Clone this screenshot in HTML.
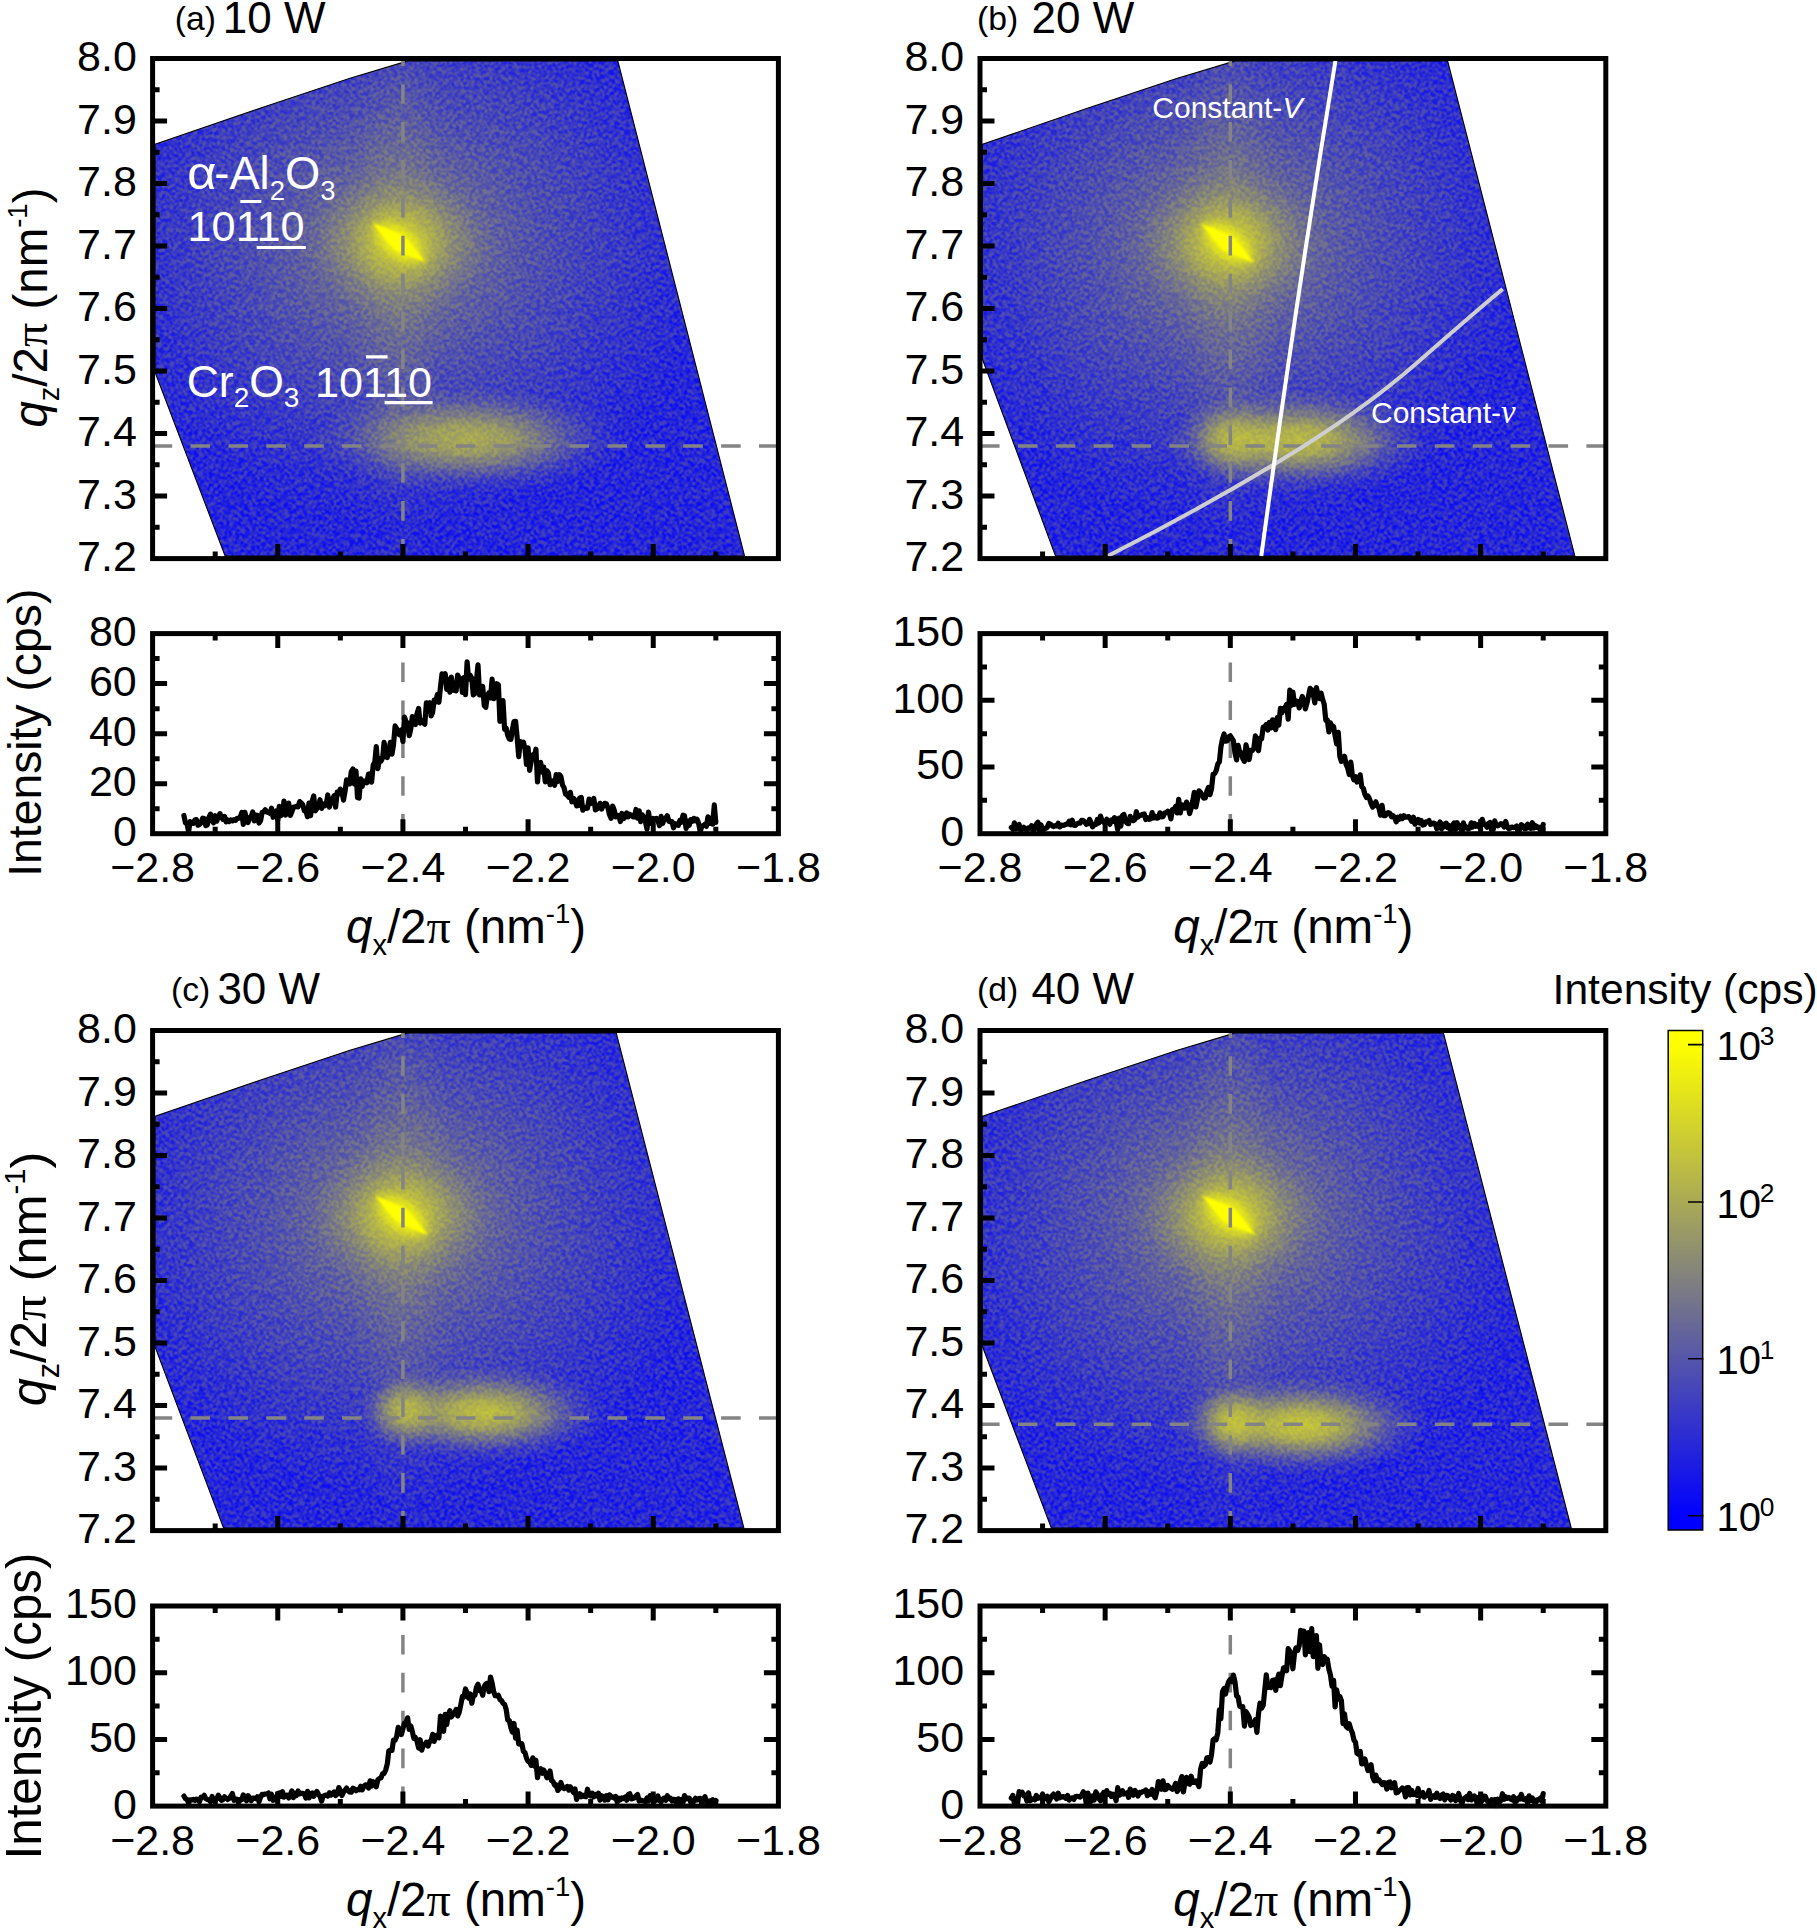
<!DOCTYPE html>
<html lang="en"><head><meta charset="utf-8"><title>Reciprocal space maps of Cr2O3 films on sapphire</title>
<style>html,body{margin:0;padding:0;background:#fff}svg{display:block}text{font-family:"Liberation Sans", sans-serif;fill:#000}</style>
</head><body>
<svg width="1817" height="1929" viewBox="0 0 1817 1929">
<rect width="1817" height="1929" fill="#fff"/>
<defs>
<filter id="heat" x="0" y="0" width="1" height="1" color-interpolation-filters="sRGB">
<feTurbulence type="fractalNoise" baseFrequency="0.6" numOctaves="1" seed="7" result="n0"/>
<feGaussianBlur in="n0" stdDeviation="0.85" result="n"/>
<feColorMatrix in="n" type="matrix" values="13 0 0 0 -6  13 0 0 0 -6  13 0 0 0 -6  0 0 0 0 1" result="n2"/>
<feComposite in="SourceGraphic" in2="n2" operator="arithmetic" k1="-0.230" k2="1.115" k3="0.230" k4="-0.115" result="t"/>
<feColorMatrix in="t" type="matrix" values="1 0 0 0 0  1 0 0 0 0  -1 0 0 0 1  0 0 0 0 1"/>
</filter>
<filter id="blur1"><feGaussianBlur stdDeviation="0.9"/></filter>
<filter id="blur4"><feGaussianBlur stdDeviation="5"/></filter>
<linearGradient id="cbar" x1="0" y1="0" x2="0" y2="1"><stop offset="0" stop-color="#ffff00"/><stop offset=".025" stop-color="#ffff00"/><stop offset=".5" stop-color="#808080"/><stop offset=".975" stop-color="#0000ff"/><stop offset="1" stop-color="#0000ff"/></linearGradient>
</defs>
<!-- panel (a) -->
<defs><radialGradient id="ga1"><stop offset="0" stop-color="#fff" stop-opacity="0.78"/><stop offset="0.04" stop-color="#fff" stop-opacity="0.69"/><stop offset="0.09" stop-color="#fff" stop-opacity="0.55"/><stop offset="0.17" stop-color="#fff" stop-opacity="0.4"/><stop offset="0.28" stop-color="#fff" stop-opacity="0.28"/><stop offset="0.43" stop-color="#fff" stop-opacity="0.2"/><stop offset="0.61" stop-color="#fff" stop-opacity="0.13"/><stop offset="0.8" stop-color="#fff" stop-opacity="0.06"/><stop offset="1" stop-color="#fff" stop-opacity="0"/></radialGradient><radialGradient id="ga2"><stop offset="0" stop-color="#fff" stop-opacity="0.11"/><stop offset="0.25" stop-color="#fff" stop-opacity="0.09"/><stop offset="0.5" stop-color="#fff" stop-opacity="0.06"/><stop offset="0.75" stop-color="#fff" stop-opacity="0.02"/><stop offset="1" stop-color="#fff" stop-opacity="0"/></radialGradient><radialGradient id="ga3"><stop offset="0" stop-color="#fff" stop-opacity="0.24"/><stop offset="0.25" stop-color="#fff" stop-opacity="0.21"/><stop offset="0.5" stop-color="#fff" stop-opacity="0.12"/><stop offset="0.75" stop-color="#fff" stop-opacity="0.04"/><stop offset="1" stop-color="#fff" stop-opacity="0"/></radialGradient><radialGradient id="ga4"><stop offset="0" stop-color="#fff" stop-opacity="0.58"/><stop offset="0.25" stop-color="#fff" stop-opacity="0.5"/><stop offset="0.5" stop-color="#fff" stop-opacity="0.29"/><stop offset="0.75" stop-color="#fff" stop-opacity="0.09"/><stop offset="1" stop-color="#fff" stop-opacity="0"/></radialGradient><clipPath id="clipa"><path d="M155,144.25 L260,108.3 L350,78.3 L408,60.9 L617.8,60.9 L744.6,556.1 L225.2,556.1 L155,372.2 Z"/></clipPath></defs>
<g clip-path="url(#clipa)"><g filter="url(#heat)">
<rect x="148.6" y="54.5" width="633.8" height="508.1" fill="#262626"/>
<ellipse cx="399.17" cy="242.6" rx="310" ry="280" fill="url(#ga1)"/>
<ellipse cx="399.17" cy="262.6" rx="55" ry="360" fill="url(#ga2)"/>
<ellipse cx="399.17" cy="242.6" rx="104" ry="62" fill="url(#ga3)"/>
<ellipse cx="468.63" cy="439.83" rx="160" ry="54" fill="url(#ga4)"/>
<g transform="translate(399.17,242.6) rotate(36.5)"><ellipse rx="30" ry="13" fill="#fff" fill-opacity=".55" filter="url(#blur4)"/><path d="M-33,0 Q-6,-8 0,-8 Q6,-8 33,0 Q6,8 0,8 Q-6,8 -33,0Z" fill="#fff" filter="url(#blur1)"/></g>
</g></g>
<path d="M155,144.25 L260,108.3 L350,78.3 L408,60.9 L617.8,60.9 L744.6,556.1 L225.2,556.1 L155,372.2 Z" fill="none" stroke="#000" stroke-width="1.1"/>
<line x1="402.92" y1="558.6" x2="402.92" y2="58.5" stroke="#848484" stroke-width="3.5" stroke-dasharray="19.6 18.3"/>
<line x1="152.6" y1="446.08" x2="778.4" y2="446.08" stroke="#848484" stroke-width="3.5" stroke-dasharray="19.6 18.3"/>
<line x1="402.92" y1="833.7" x2="402.92" y2="660.7" stroke="#848484" stroke-width="3.5" stroke-dasharray="19.6 18.3"/>
<text transform="translate(187.2,189.3) scale(1.1,1)" font-family='"Liberation Serif", serif' font-size="46" style="fill:#fff">α</text>
<text x="214.3" y="189.3" font-size="45.3" text-anchor="start" style="fill:#fff">-Al<tspan font-size="27.5" dy="10.3">2</tspan><tspan dy="-10.3">O</tspan><tspan font-size="27.5" dy="10.3">3</tspan></text>
<text x="187.6" y="241.2" font-size="43.2" text-anchor="start" style="fill:#fff">10110</text>
<path d="M240.3,201.5 H261.4 M256.7,247.4 H305.8" stroke="#fff" stroke-width="3" fill="none"/>
<text x="186.7" y="397.2" font-size="44.5" text-anchor="start" style="fill:#fff">Cr<tspan font-size="28" dy="10">2</tspan><tspan dy="-10">O</tspan><tspan font-size="28" dy="10">3</tspan><tspan dy="-10" dx="3.6" font-size="43.2"> 10110</tspan></text>
<path d="M366,356.8 H387.5 M384.6,402.6 H432.6" stroke="#fff" stroke-width="3.2" fill="none"/>
<path d="M215.18,558.6 v-7 M277.76,558.6 v-14.5 M340.34,558.6 v-7 M402.92,558.6 v-14.5 M465.5,558.6 v-7 M528.08,558.6 v-14.5 M590.66,558.6 v-7 M653.24,558.6 v-14.5 M715.82,558.6 v-7" stroke="#000" stroke-width="5.0" fill="none"/>
<path d="M152.6,89.76 h7 M152.6,121.01 h14.5 M152.6,152.27 h7 M152.6,183.53 h14.5 M152.6,214.78 h7 M152.6,246.04 h14.5 M152.6,277.29 h7 M152.6,308.55 h14.5 M152.6,339.81 h7 M152.6,371.06 h14.5 M152.6,402.32 h7 M152.6,433.58 h14.5 M152.6,464.83 h7 M152.6,496.09 h14.5 M152.6,527.34 h7" stroke="#000" stroke-width="5.0" fill="none"/>
<rect x="152.6" y="58.5" width="625.8" height="500.1" fill="none" stroke="#000" stroke-width="5.0"/>
<text x="136.8" y="71.1" font-size="43" text-anchor="end">8.0</text>
<text x="136.8" y="133.61" font-size="43" text-anchor="end">7.9</text>
<text x="136.8" y="196.12" font-size="43" text-anchor="end">7.8</text>
<text x="136.8" y="258.64" font-size="43" text-anchor="end">7.7</text>
<text x="136.8" y="321.15" font-size="43" text-anchor="end">7.6</text>
<text x="136.8" y="383.66" font-size="43" text-anchor="end">7.5</text>
<text x="136.8" y="446.18" font-size="43" text-anchor="end">7.4</text>
<text x="136.8" y="508.69" font-size="43" text-anchor="end">7.3</text>
<text x="136.8" y="571.2" font-size="43" text-anchor="end">7.2</text>
<text transform="translate(47.3,307.55) rotate(-90)" font-size="47.5" text-anchor="middle"><tspan font-style="italic">q</tspan><tspan font-size="29" dy="12">z</tspan><tspan dy="-12">/2</tspan><tspan font-family='"Liberation Serif", serif' font-size="48">π</tspan><tspan> (nm</tspan><tspan font-size="27.5" dy="-20">-1</tspan><tspan dy="20">)</tspan></text>
<text x="174.8" y="29.9" font-size="33.7" text-anchor="start">(a)</text>
<text x="222.8" y="32.7" font-size="44" text-anchor="start">10 W</text>
<path d="M183.9,815.5 185.5,822.9 187.0,823.6 188.6,831.6 190.1,821.6 191.7,822.7 193.3,823.4 194.8,820.1 196.4,819.6 198.0,825.2 199.5,824.4 201.1,822.7 202.7,818.2 204.2,818.6 205.8,825.6 207.4,824.8 208.9,817.6 210.5,814.2 212.1,820.4 213.6,822.8 215.2,815.7 216.7,821.2 218.3,817.0 219.9,813.6 221.4,817.2 223.0,819.3 224.6,816.5 226.1,821.9 227.7,820.0 229.3,821.5 230.8,819.9 232.4,820.9 234.0,819.6 235.5,820.3 237.1,818.3 238.6,818.3 240.2,817.2 241.8,812.5 243.3,824.4 244.9,812.4 246.5,818.6 248.0,822.5 249.6,817.8 251.2,816.4 252.7,812.0 254.3,820.9 255.9,815.2 257.4,815.3 259.0,823.0 260.6,820.6 262.1,812.5 263.7,811.8 265.2,809.8 266.8,812.0 268.4,812.4 269.9,813.4 271.5,808.2 273.1,817.3 274.6,813.8 276.2,811.1 277.8,820.0 279.3,806.3 280.9,815.8 282.5,812.1 284.0,801.2 285.6,815.1 287.1,813.4 288.7,803.0 290.3,815.5 291.8,812.0 293.4,807.1 295.0,807.1 296.5,806.1 298.1,806.8 299.7,801.6 301.2,803.0 302.8,804.8 304.4,810.9 305.9,810.8 307.5,816.7 309.0,803.0 310.6,815.7 312.2,801.3 313.7,795.9 315.3,810.8 316.9,808.5 318.4,807.0 320.0,799.7 321.6,808.4 323.1,804.0 324.7,805.8 326.3,803.9 327.8,795.0 329.4,807.1 331.0,800.9 332.5,799.4 334.1,795.7 335.6,807.1 337.2,792.2 338.8,794.1 340.3,789.1 341.9,791.6 343.5,800.1 345.0,791.6 346.6,779.8 348.2,783.6 349.7,783.8 351.3,771.6 352.9,769.0 354.4,784.1 356.0,771.2 357.5,797.5 359.1,798.0 360.7,778.8 362.2,786.5 363.8,781.0 365.4,780.9 366.9,782.8 368.5,774.0 370.1,773.7 371.6,782.1 373.2,765.1 374.8,761.9 376.3,746.6 377.9,768.7 379.5,758.6 381.0,761.2 382.6,757.9 384.1,742.4 385.7,751.8 387.3,757.5 388.8,750.3 390.4,742.3 392.0,754.2 393.5,744.9 395.1,725.9 396.7,728.8 398.2,733.8 399.8,734.9 401.4,729.8 402.9,741.5 404.5,717.1 406.0,721.9 407.6,723.0 409.2,735.7 410.7,729.4 412.3,716.7 413.9,718.3 415.4,724.5 417.0,713.8 418.6,708.4 420.1,723.1 421.7,720.6 423.3,722.8 424.8,724.2 426.4,702.8 428.0,703.4 429.5,702.8 431.1,716.0 432.6,712.5 434.2,700.1 435.8,701.8 437.3,694.7 438.9,702.3 440.5,687.0 442.0,673.8 443.6,675.5 445.2,673.8 446.7,689.3 448.3,679.2 449.9,692.2 451.4,677.2 453.0,690.2 454.5,690.3 456.1,690.9 457.7,675.1 459.2,678.6 460.8,678.6 462.4,692.4 463.9,677.6 465.5,694.7 467.1,661.8 468.6,679.2 470.2,675.1 471.8,678.1 473.3,694.9 474.9,693.5 476.5,680.0 478.0,664.8 479.6,695.0 481.1,692.0 482.7,686.4 484.3,705.7 485.8,707.3 487.4,695.0 489.0,692.7 490.5,697.9 492.1,679.2 493.7,698.7 495.2,694.8 496.8,683.7 498.4,684.8 499.9,721.4 501.5,712.4 503.0,700.6 504.6,729.3 506.2,728.2 507.7,735.2 509.3,739.0 510.9,739.4 512.4,729.5 514.0,721.6 515.6,721.3 517.1,737.0 518.7,756.6 520.3,741.7 521.8,746.1 523.4,742.2 525.0,748.3 526.5,764.4 528.1,747.9 529.6,770.4 531.2,761.1 532.8,755.0 534.3,756.7 535.9,749.2 537.5,782.0 539.0,763.1 540.6,762.5 542.2,772.2 543.7,767.1 545.3,781.8 546.9,770.8 548.4,773.0 550.0,784.7 551.5,783.4 553.1,781.0 554.7,785.2 556.2,774.5 557.8,781.4 559.4,774.7 560.9,776.6 562.5,785.0 564.1,787.8 565.6,794.1 567.2,795.1 568.8,797.2 570.3,792.3 571.9,801.8 573.5,798.4 575.0,800.0 576.6,805.8 578.1,805.7 579.7,798.0 581.3,797.5 582.8,810.1 584.4,807.3 586.0,808.4 587.5,808.1 589.1,799.1 590.7,803.6 592.2,800.9 593.8,798.5 595.4,810.0 596.9,808.9 598.5,808.0 600.0,803.3 601.6,809.1 603.2,805.6 604.7,803.3 606.3,803.7 607.9,807.7 609.4,814.3 611.0,818.4 612.6,806.1 614.1,809.8 615.7,816.9 617.3,815.4 618.8,815.6 620.4,821.6 621.9,813.5 623.5,818.6 625.1,816.9 626.6,812.9 628.2,816.8 629.8,814.3 631.3,815.0 632.9,816.8 634.5,816.9 636.0,809.5 637.6,818.2 639.2,810.8 640.7,821.6 642.3,814.9 643.9,817.4 645.4,821.2 647.0,829.2 648.5,812.1 650.1,823.4 651.7,822.8 653.2,818.5 654.8,819.0 656.4,818.3 657.9,820.5 659.5,825.6 661.1,816.4 662.6,823.5 664.2,819.3 665.8,818.0 667.3,815.8 668.9,821.3 670.4,821.7 672.0,821.5 673.6,827.8 675.1,823.7 676.7,824.7 678.3,825.4 679.8,820.4 681.4,822.3 683.0,815.2 684.5,815.7 686.1,828.5 687.7,821.1 689.2,825.4 690.8,819.6 692.4,821.2 693.9,818.4 695.5,820.8 697.0,819.3 698.6,823.3 700.2,831.4 701.7,826.7 703.3,825.5 704.9,824.3 706.4,826.3 708.0,816.8 709.6,823.4 711.1,818.2 712.7,824.2 714.3,804.9 715.8,822.4" fill="none" stroke="#000" stroke-width="5.2" stroke-linejoin="round" stroke-linecap="round"/>
<path d="M215.18,833.7 v-7 M277.76,833.7 v-14.5 M340.34,833.7 v-7 M402.92,833.7 v-14.5 M465.5,833.7 v-7 M528.08,833.7 v-14.5 M590.66,833.7 v-7 M653.24,833.7 v-14.5 M715.82,833.7 v-7" stroke="#000" stroke-width="5.0" fill="none"/>
<path d="M215.18,633.6 v7 M277.76,633.6 v14.5 M340.34,633.6 v7 M402.92,633.6 v14.5 M465.5,633.6 v7 M528.08,633.6 v14.5 M590.66,633.6 v7 M653.24,633.6 v14.5 M715.82,633.6 v7" stroke="#000" stroke-width="5.0" fill="none"/>
<path d="M152.6,658.61 h7 M152.6,683.62 h14.5 M152.6,708.64 h7 M152.6,733.65 h14.5 M152.6,758.66 h7 M152.6,783.67 h14.5 M152.6,808.69 h7" stroke="#000" stroke-width="5.0" fill="none"/>
<path d="M778.4,658.61 h-7 M778.4,683.62 h-14.5 M778.4,708.64 h-7 M778.4,733.65 h-14.5 M778.4,758.66 h-7 M778.4,783.67 h-14.5 M778.4,808.69 h-7" stroke="#000" stroke-width="5.0" fill="none"/>
<rect x="152.6" y="633.6" width="625.8" height="200.1" fill="none" stroke="#000" stroke-width="5.0"/>
<text x="136.8" y="846.1" font-size="43" text-anchor="end">0</text>
<text x="136.8" y="796.08" font-size="43" text-anchor="end">20</text>
<text x="136.8" y="746.05" font-size="43" text-anchor="end">40</text>
<text x="136.8" y="696.02" font-size="43" text-anchor="end">60</text>
<text x="136.8" y="646" font-size="43" text-anchor="end">80</text>
<text x="152.6" y="882.3" font-size="43" text-anchor="middle">−2.8</text>
<text x="277.76" y="882.3" font-size="43" text-anchor="middle">−2.6</text>
<text x="402.92" y="882.3" font-size="43" text-anchor="middle">−2.4</text>
<text x="528.08" y="882.3" font-size="43" text-anchor="middle">−2.2</text>
<text x="653.24" y="882.3" font-size="43" text-anchor="middle">−2.0</text>
<text x="778.4" y="882.3" font-size="43" text-anchor="middle">−1.8</text>
<text transform="translate(41,732.75) rotate(-90)" font-size="46.3" text-anchor="middle">Intensity (cps)</text>
<text x="466" y="943.1" font-size="47.5" text-anchor="middle"><tspan font-style="italic">q</tspan><tspan font-size="29" dy="12">x</tspan><tspan dy="-12">/2</tspan><tspan font-family='"Liberation Serif", serif' font-size="48">π</tspan><tspan> (nm</tspan><tspan font-size="27.5" dy="-20">-1</tspan><tspan dy="20">)</tspan></text>
<!-- panel (b) -->
<defs><radialGradient id="gb1"><stop offset="0" stop-color="#fff" stop-opacity="0.78"/><stop offset="0.04" stop-color="#fff" stop-opacity="0.69"/><stop offset="0.09" stop-color="#fff" stop-opacity="0.55"/><stop offset="0.17" stop-color="#fff" stop-opacity="0.4"/><stop offset="0.28" stop-color="#fff" stop-opacity="0.28"/><stop offset="0.43" stop-color="#fff" stop-opacity="0.2"/><stop offset="0.61" stop-color="#fff" stop-opacity="0.13"/><stop offset="0.8" stop-color="#fff" stop-opacity="0.06"/><stop offset="1" stop-color="#fff" stop-opacity="0"/></radialGradient><radialGradient id="gb2"><stop offset="0" stop-color="#fff" stop-opacity="0.11"/><stop offset="0.25" stop-color="#fff" stop-opacity="0.09"/><stop offset="0.5" stop-color="#fff" stop-opacity="0.06"/><stop offset="0.75" stop-color="#fff" stop-opacity="0.02"/><stop offset="1" stop-color="#fff" stop-opacity="0"/></radialGradient><radialGradient id="gb3"><stop offset="0" stop-color="#fff" stop-opacity="0.24"/><stop offset="0.25" stop-color="#fff" stop-opacity="0.21"/><stop offset="0.5" stop-color="#fff" stop-opacity="0.12"/><stop offset="0.75" stop-color="#fff" stop-opacity="0.04"/><stop offset="1" stop-color="#fff" stop-opacity="0"/></radialGradient><radialGradient id="gb4"><stop offset="0" stop-color="#fff" stop-opacity="0.66"/><stop offset="0.25" stop-color="#fff" stop-opacity="0.57"/><stop offset="0.5" stop-color="#fff" stop-opacity="0.33"/><stop offset="0.75" stop-color="#fff" stop-opacity="0.11"/><stop offset="1" stop-color="#fff" stop-opacity="0"/></radialGradient><radialGradient id="gb5"><stop offset="0" stop-color="#fff" stop-opacity="0.42"/><stop offset="0.25" stop-color="#fff" stop-opacity="0.36"/><stop offset="0.5" stop-color="#fff" stop-opacity="0.21"/><stop offset="0.75" stop-color="#fff" stop-opacity="0.07"/><stop offset="1" stop-color="#fff" stop-opacity="0"/></radialGradient><clipPath id="clipb"><path d="M982.4,144.25 L1087.4,108.3 L1177.4,78.3 L1235.4,60.9 L1447.6,60.9 L1574.9,556.1 L1055.6,556.1 L982.4,359.2 Z"/></clipPath></defs>
<g clip-path="url(#clipb)"><g filter="url(#heat)">
<rect x="976" y="54.5" width="633.8" height="508.1" fill="#262626"/>
<ellipse cx="1227.82" cy="243.22" rx="310" ry="280" fill="url(#gb1)"/>
<ellipse cx="1227.82" cy="263.22" rx="55" ry="360" fill="url(#gb2)"/>
<ellipse cx="1227.82" cy="243.22" rx="104" ry="62" fill="url(#gb3)"/>
<ellipse cx="1297.91" cy="441.08" rx="136" ry="52" fill="url(#gb4)"/>
<ellipse cx="1230.32" cy="439.83" rx="50" ry="42" fill="url(#gb5)"/>
<g transform="translate(1227.82,243.22) rotate(36.5)"><ellipse rx="30" ry="13" fill="#fff" fill-opacity=".55" filter="url(#blur4)"/><path d="M-33,0 Q-6,-8 0,-8 Q6,-8 33,0 Q6,8 0,8 Q-6,8 -33,0Z" fill="#fff" filter="url(#blur1)"/></g>
</g></g>
<path d="M982.4,144.25 L1087.4,108.3 L1177.4,78.3 L1235.4,60.9 L1447.6,60.9 L1574.9,556.1 L1055.6,556.1 L982.4,359.2 Z" fill="none" stroke="#000" stroke-width="1.1"/>
<line x1="1230.32" y1="558.6" x2="1230.32" y2="58.5" stroke="#848484" stroke-width="3.5" stroke-dasharray="19.6 18.3"/>
<line x1="980" y1="446.08" x2="1605.8" y2="446.08" stroke="#848484" stroke-width="3.5" stroke-dasharray="19.6 18.3"/>
<line x1="1230.32" y1="833.7" x2="1230.32" y2="660.7" stroke="#848484" stroke-width="3.5" stroke-dasharray="19.6 18.3"/>
<path d="M1107.8,556 Q1195,512 1278,462 T1418,362 T1502.7,289" fill="none" stroke="#cfcfcf" stroke-width="4"/>
<path d="M1335.4,61 Q1296,300 1261.3,556" fill="none" stroke="#fff" stroke-width="4"/>
<text x="1152.3" y="118.2" font-size="30" text-anchor="start" style="fill:#fff">Constant-<tspan font-style="italic">V</tspan></text>
<text x="1371" y="422.5" font-size="30" text-anchor="start" style="fill:#fff">Constant-<tspan font-style="italic" font-family='"Liberation Serif", serif' font-size="33">ν</tspan></text>
<path d="M1042.58,558.6 v-7 M1105.16,558.6 v-14.5 M1167.74,558.6 v-7 M1230.32,558.6 v-14.5 M1292.9,558.6 v-7 M1355.48,558.6 v-14.5 M1418.06,558.6 v-7 M1480.64,558.6 v-14.5 M1543.22,558.6 v-7" stroke="#000" stroke-width="5.0" fill="none"/>
<path d="M980,89.76 h7 M980,121.01 h14.5 M980,152.27 h7 M980,183.53 h14.5 M980,214.78 h7 M980,246.04 h14.5 M980,277.29 h7 M980,308.55 h14.5 M980,339.81 h7 M980,371.06 h14.5 M980,402.32 h7 M980,433.58 h14.5 M980,464.83 h7 M980,496.09 h14.5 M980,527.34 h7" stroke="#000" stroke-width="5.0" fill="none"/>
<rect x="980" y="58.5" width="625.8" height="500.1" fill="none" stroke="#000" stroke-width="5.0"/>
<text x="964.2" y="71.1" font-size="43" text-anchor="end">8.0</text>
<text x="964.2" y="133.61" font-size="43" text-anchor="end">7.9</text>
<text x="964.2" y="196.12" font-size="43" text-anchor="end">7.8</text>
<text x="964.2" y="258.64" font-size="43" text-anchor="end">7.7</text>
<text x="964.2" y="321.15" font-size="43" text-anchor="end">7.6</text>
<text x="964.2" y="383.66" font-size="43" text-anchor="end">7.5</text>
<text x="964.2" y="446.18" font-size="43" text-anchor="end">7.4</text>
<text x="964.2" y="508.69" font-size="43" text-anchor="end">7.3</text>
<text x="964.2" y="571.2" font-size="43" text-anchor="end">7.2</text>
<text x="977" y="29.9" font-size="33.7" text-anchor="start">(b)</text>
<text x="1031.5" y="32.7" font-size="44" text-anchor="start">20 W</text>
<path d="M1011.3,827.4 1012.9,829.1 1014.4,822.8 1016.0,828.8 1017.5,827.9 1019.1,824.4 1020.7,830.0 1022.2,829.2 1023.8,827.3 1025.4,828.4 1026.9,830.3 1028.5,827.9 1030.1,828.2 1031.6,825.7 1033.2,831.1 1034.8,828.7 1036.3,824.1 1037.9,822.2 1039.5,830.4 1041.0,825.0 1042.6,828.9 1044.1,828.5 1045.7,828.4 1047.3,827.2 1048.8,823.5 1050.4,824.1 1052.0,825.7 1053.5,826.6 1055.1,825.6 1056.7,825.8 1058.2,823.3 1059.8,826.9 1061.4,825.2 1062.9,825.3 1064.5,825.1 1066.0,824.2 1067.6,824.2 1069.2,821.1 1070.7,824.8 1072.3,820.2 1073.9,825.2 1075.4,825.5 1077.0,823.9 1078.6,823.1 1080.1,823.2 1081.7,820.3 1083.3,820.6 1084.8,822.2 1086.4,824.4 1088.0,823.7 1089.5,819.3 1091.1,822.6 1092.6,826.8 1094.2,824.9 1095.8,824.5 1097.3,819.5 1098.9,823.0 1100.5,816.1 1102.0,820.5 1103.6,822.0 1105.2,823.5 1106.7,819.3 1108.3,822.6 1109.9,824.2 1111.4,819.9 1113.0,821.3 1114.5,817.6 1116.1,821.2 1117.7,829.4 1119.2,818.2 1120.8,826.1 1122.4,815.5 1123.9,814.4 1125.5,821.1 1127.1,823.2 1128.6,823.7 1130.2,816.4 1131.8,819.6 1133.3,820.7 1134.9,819.4 1136.4,811.7 1138.0,817.1 1139.6,815.6 1141.1,815.3 1142.7,814.3 1144.3,814.0 1145.8,819.5 1147.4,817.7 1149.0,819.3 1150.5,819.0 1152.1,812.6 1153.7,817.9 1155.2,816.3 1156.8,818.2 1158.4,817.7 1159.9,812.8 1161.5,816.8 1163.0,816.7 1164.6,813.1 1166.2,812.8 1167.7,811.2 1169.3,812.7 1170.9,818.9 1172.4,809.6 1174.0,809.3 1175.6,806.6 1177.1,812.9 1178.7,799.4 1180.3,813.0 1181.8,804.7 1183.4,806.6 1184.9,808.0 1186.5,802.1 1188.1,805.8 1189.6,813.5 1191.2,808.0 1192.8,800.6 1194.3,792.3 1195.9,806.9 1197.5,799.1 1199.0,790.8 1200.6,792.5 1202.2,795.1 1203.7,798.1 1205.3,798.0 1206.9,791.2 1208.4,787.5 1210.0,794.7 1211.5,788.9 1213.1,774.3 1214.7,773.4 1216.2,770.7 1217.8,764.0 1219.4,761.8 1220.9,746.9 1222.5,739.1 1224.1,734.0 1225.6,741.2 1227.2,740.7 1228.8,736.7 1230.3,735.8 1231.9,738.4 1233.4,740.8 1235.0,753.2 1236.6,759.9 1238.1,745.3 1239.7,752.2 1241.3,752.7 1242.8,758.5 1244.4,761.4 1246.0,744.9 1247.5,750.4 1249.1,759.5 1250.7,750.3 1252.2,750.6 1253.8,748.5 1255.4,735.9 1256.9,746.6 1258.5,750.7 1260.0,738.2 1261.6,738.8 1263.2,727.1 1264.7,726.8 1266.3,724.5 1267.9,730.0 1269.4,722.3 1271.0,727.9 1272.6,719.9 1274.1,724.8 1275.7,729.7 1277.3,717.5 1278.8,725.1 1280.4,708.4 1281.9,712.8 1283.5,708.9 1285.1,707.4 1286.6,704.5 1288.2,719.1 1289.8,690.1 1291.3,705.4 1292.9,692.1 1294.5,704.4 1296.0,700.8 1297.6,701.5 1299.2,707.9 1300.7,701.4 1302.3,696.5 1303.9,702.9 1305.4,708.9 1307.0,702.9 1308.5,696.0 1310.1,688.4 1311.7,690.1 1313.2,693.7 1314.8,702.9 1316.4,687.6 1317.9,694.6 1319.5,698.5 1321.1,693.1 1322.6,699.3 1324.2,704.2 1325.8,720.3 1327.3,720.2 1328.9,732.0 1330.4,722.8 1332.0,728.3 1333.6,726.6 1335.1,735.8 1336.7,743.9 1338.3,732.4 1339.8,756.2 1341.4,761.4 1343.0,760.0 1344.5,756.3 1346.1,764.5 1347.7,768.0 1349.2,774.5 1350.8,762.2 1352.4,775.7 1353.9,779.9 1355.5,776.6 1357.0,782.0 1358.6,780.8 1360.2,774.8 1361.7,786.5 1363.3,788.3 1364.9,794.2 1366.4,797.5 1368.0,796.1 1369.6,799.0 1371.1,803.7 1372.7,807.1 1374.3,804.8 1375.8,801.8 1377.4,806.2 1378.9,807.6 1380.5,815.1 1382.1,805.3 1383.6,815.6 1385.2,815.7 1386.8,813.3 1388.3,812.6 1389.9,813.3 1391.5,816.7 1393.0,815.7 1394.6,817.3 1396.2,821.9 1397.7,817.2 1399.3,819.2 1400.9,816.2 1402.4,818.6 1404.0,815.7 1405.5,817.1 1407.1,817.1 1408.7,816.6 1410.2,818.5 1411.8,821.4 1413.4,817.1 1414.9,824.2 1416.5,821.8 1418.1,819.5 1419.6,823.1 1421.2,820.5 1422.8,825.1 1424.3,824.6 1425.9,821.8 1427.4,821.6 1429.0,820.6 1430.6,824.4 1432.1,823.6 1433.7,823.0 1435.3,823.8 1436.8,828.7 1438.4,827.0 1440.0,821.9 1441.5,828.9 1443.1,824.1 1444.7,826.8 1446.2,823.1 1447.8,827.7 1449.3,825.6 1450.9,830.9 1452.5,825.8 1454.0,822.9 1455.6,829.5 1457.2,822.7 1458.7,827.5 1460.3,825.8 1461.9,832.8 1463.4,822.9 1465.0,827.9 1466.6,827.1 1468.1,829.0 1469.7,828.2 1471.3,822.8 1472.8,827.0 1474.4,823.4 1475.9,826.2 1477.5,824.8 1479.1,827.1 1480.6,824.7 1482.2,819.3 1483.8,824.2 1485.3,824.7 1486.9,827.2 1488.5,823.5 1490.0,822.6 1491.6,830.4 1493.2,829.6 1494.7,820.9 1496.3,825.2 1497.8,825.9 1499.4,824.9 1501.0,823.6 1502.5,824.4 1504.1,827.0 1505.7,821.4 1507.2,826.5 1508.8,828.7 1510.4,828.0 1511.9,827.0 1513.5,827.6 1515.1,827.2 1516.6,826.0 1518.2,833.2 1519.8,828.8 1521.3,824.6 1522.9,825.6 1524.4,828.6 1526.0,828.5 1527.6,824.3 1529.1,827.7 1530.7,828.4 1532.3,822.7 1533.8,828.1 1535.4,825.6 1537.0,827.4 1538.5,827.2 1540.1,829.7 1541.7,829.4 1543.2,824.5" fill="none" stroke="#000" stroke-width="5.2" stroke-linejoin="round" stroke-linecap="round"/>
<path d="M1042.58,833.7 v-7 M1105.16,833.7 v-14.5 M1167.74,833.7 v-7 M1230.32,833.7 v-14.5 M1292.9,833.7 v-7 M1355.48,833.7 v-14.5 M1418.06,833.7 v-7 M1480.64,833.7 v-14.5 M1543.22,833.7 v-7" stroke="#000" stroke-width="5.0" fill="none"/>
<path d="M1042.58,633.6 v7 M1105.16,633.6 v14.5 M1167.74,633.6 v7 M1230.32,633.6 v14.5 M1292.9,633.6 v7 M1355.48,633.6 v14.5 M1418.06,633.6 v7 M1480.64,633.6 v14.5 M1543.22,633.6 v7" stroke="#000" stroke-width="5.0" fill="none"/>
<path d="M980,666.95 h7 M980,700.3 h14.5 M980,733.65 h7 M980,767 h14.5 M980,800.35 h7" stroke="#000" stroke-width="5.0" fill="none"/>
<path d="M1605.8,666.95 h-7 M1605.8,700.3 h-14.5 M1605.8,733.65 h-7 M1605.8,767 h-14.5 M1605.8,800.35 h-7" stroke="#000" stroke-width="5.0" fill="none"/>
<rect x="980" y="633.6" width="625.8" height="200.1" fill="none" stroke="#000" stroke-width="5.0"/>
<text x="964.2" y="846.1" font-size="43" text-anchor="end">0</text>
<text x="964.2" y="779.4" font-size="43" text-anchor="end">50</text>
<text x="964.2" y="712.7" font-size="43" text-anchor="end">100</text>
<text x="964.2" y="646" font-size="43" text-anchor="end">150</text>
<text x="980" y="882.3" font-size="43" text-anchor="middle">−2.8</text>
<text x="1105.16" y="882.3" font-size="43" text-anchor="middle">−2.6</text>
<text x="1230.32" y="882.3" font-size="43" text-anchor="middle">−2.4</text>
<text x="1355.48" y="882.3" font-size="43" text-anchor="middle">−2.2</text>
<text x="1480.64" y="882.3" font-size="43" text-anchor="middle">−2.0</text>
<text x="1605.8" y="882.3" font-size="43" text-anchor="middle">−1.8</text>
<text x="1293.4" y="943.1" font-size="47.5" text-anchor="middle"><tspan font-style="italic">q</tspan><tspan font-size="29" dy="12">x</tspan><tspan dy="-12">/2</tspan><tspan font-family='"Liberation Serif", serif' font-size="48">π</tspan><tspan> (nm</tspan><tspan font-size="27.5" dy="-20">-1</tspan><tspan dy="20">)</tspan></text>
<!-- panel (c) -->
<defs><radialGradient id="gc1"><stop offset="0" stop-color="#fff" stop-opacity="0.78"/><stop offset="0.04" stop-color="#fff" stop-opacity="0.69"/><stop offset="0.09" stop-color="#fff" stop-opacity="0.55"/><stop offset="0.17" stop-color="#fff" stop-opacity="0.4"/><stop offset="0.28" stop-color="#fff" stop-opacity="0.28"/><stop offset="0.43" stop-color="#fff" stop-opacity="0.2"/><stop offset="0.61" stop-color="#fff" stop-opacity="0.13"/><stop offset="0.8" stop-color="#fff" stop-opacity="0.06"/><stop offset="1" stop-color="#fff" stop-opacity="0"/></radialGradient><radialGradient id="gc2"><stop offset="0" stop-color="#fff" stop-opacity="0.11"/><stop offset="0.25" stop-color="#fff" stop-opacity="0.09"/><stop offset="0.5" stop-color="#fff" stop-opacity="0.06"/><stop offset="0.75" stop-color="#fff" stop-opacity="0.02"/><stop offset="1" stop-color="#fff" stop-opacity="0"/></radialGradient><radialGradient id="gc3"><stop offset="0" stop-color="#fff" stop-opacity="0.24"/><stop offset="0.25" stop-color="#fff" stop-opacity="0.21"/><stop offset="0.5" stop-color="#fff" stop-opacity="0.12"/><stop offset="0.75" stop-color="#fff" stop-opacity="0.04"/><stop offset="1" stop-color="#fff" stop-opacity="0"/></radialGradient><radialGradient id="gc4"><stop offset="0" stop-color="#fff" stop-opacity="0.68"/><stop offset="0.25" stop-color="#fff" stop-opacity="0.58"/><stop offset="0.5" stop-color="#fff" stop-opacity="0.34"/><stop offset="0.75" stop-color="#fff" stop-opacity="0.11"/><stop offset="1" stop-color="#fff" stop-opacity="0"/></radialGradient><radialGradient id="gc5"><stop offset="0" stop-color="#fff" stop-opacity="0.5"/><stop offset="0.25" stop-color="#fff" stop-opacity="0.43"/><stop offset="0.5" stop-color="#fff" stop-opacity="0.25"/><stop offset="0.75" stop-color="#fff" stop-opacity="0.08"/><stop offset="1" stop-color="#fff" stop-opacity="0"/></radialGradient><clipPath id="clipc"><path d="M155,1116.25 L260,1080.3 L350,1050.3 L408,1032.9 L616.2,1032.9 L743.9,1528.1 L223.6,1528.1 L155,1346.7 Z"/></clipPath></defs>
<g clip-path="url(#clipc)"><g filter="url(#heat)">
<rect x="148.6" y="1026.5" width="633.8" height="508.1" fill="#262626"/>
<ellipse cx="401.67" cy="1215.54" rx="310" ry="280" fill="url(#gc1)"/>
<ellipse cx="401.67" cy="1235.54" rx="55" ry="360" fill="url(#gc2)"/>
<ellipse cx="401.67" cy="1215.54" rx="104" ry="62" fill="url(#gc3)"/>
<ellipse cx="484.27" cy="1413.08" rx="124" ry="48" fill="url(#gc4)"/>
<ellipse cx="404.17" cy="1410.58" rx="42" ry="40" fill="url(#gc5)"/>
<g transform="translate(401.67,1215.54) rotate(36.5)"><ellipse rx="30" ry="13" fill="#fff" fill-opacity=".55" filter="url(#blur4)"/><path d="M-33,0 Q-6,-7.6 0,-7.6 Q6,-7.6 33,0 Q6,7.6 0,7.6 Q-6,7.6 -33,0Z" fill="#fff" filter="url(#blur1)"/></g>
</g></g>
<path d="M155,1116.25 L260,1080.3 L350,1050.3 L408,1032.9 L616.2,1032.9 L743.9,1528.1 L223.6,1528.1 L155,1346.7 Z" fill="none" stroke="#000" stroke-width="1.1"/>
<line x1="402.92" y1="1530.6" x2="402.92" y2="1030.5" stroke="#848484" stroke-width="3.5" stroke-dasharray="19.6 18.3"/>
<line x1="152.6" y1="1418.08" x2="778.4" y2="1418.08" stroke="#848484" stroke-width="3.5" stroke-dasharray="19.6 18.3"/>
<line x1="402.92" y1="1806.1" x2="402.92" y2="1633.1" stroke="#848484" stroke-width="3.5" stroke-dasharray="19.6 18.3"/>
<path d="M215.18,1530.6 v-7 M277.76,1530.6 v-14.5 M340.34,1530.6 v-7 M402.92,1530.6 v-14.5 M465.5,1530.6 v-7 M528.08,1530.6 v-14.5 M590.66,1530.6 v-7 M653.24,1530.6 v-14.5 M715.82,1530.6 v-7" stroke="#000" stroke-width="5.0" fill="none"/>
<path d="M152.6,1061.76 h7 M152.6,1093.01 h14.5 M152.6,1124.27 h7 M152.6,1155.53 h14.5 M152.6,1186.78 h7 M152.6,1218.04 h14.5 M152.6,1249.29 h7 M152.6,1280.55 h14.5 M152.6,1311.81 h7 M152.6,1343.06 h14.5 M152.6,1374.32 h7 M152.6,1405.58 h14.5 M152.6,1436.83 h7 M152.6,1468.09 h14.5 M152.6,1499.34 h7" stroke="#000" stroke-width="5.0" fill="none"/>
<rect x="152.6" y="1030.5" width="625.8" height="500.1" fill="none" stroke="#000" stroke-width="5.0"/>
<text x="136.8" y="1043.1" font-size="43" text-anchor="end">8.0</text>
<text x="136.8" y="1105.61" font-size="43" text-anchor="end">7.9</text>
<text x="136.8" y="1168.12" font-size="43" text-anchor="end">7.8</text>
<text x="136.8" y="1230.64" font-size="43" text-anchor="end">7.7</text>
<text x="136.8" y="1293.15" font-size="43" text-anchor="end">7.6</text>
<text x="136.8" y="1355.66" font-size="43" text-anchor="end">7.5</text>
<text x="136.8" y="1418.17" font-size="43" text-anchor="end">7.4</text>
<text x="136.8" y="1480.69" font-size="43" text-anchor="end">7.3</text>
<text x="136.8" y="1543.2" font-size="43" text-anchor="end">7.2</text>
<text transform="translate(46.3,1279.05) rotate(-90) scale(1.061)" font-size="47.5" text-anchor="middle"><tspan font-style="italic">q</tspan><tspan font-size="29" dy="12">z</tspan><tspan dy="-12">/2</tspan><tspan font-family='"Liberation Serif", serif' font-size="48">π</tspan><tspan> (nm</tspan><tspan font-size="27.5" dy="-20">-1</tspan><tspan dy="20">)</tspan></text>
<text x="171" y="1000.9" font-size="33.7" text-anchor="start">(c)</text>
<text x="217.4" y="1003.7" font-size="44" text-anchor="start">30 W</text>
<path d="M183.9,1796.1 185.5,1798.7 187.0,1799.3 188.6,1803.1 190.1,1799.9 191.7,1800.0 193.3,1799.4 194.8,1800.4 196.4,1799.2 198.0,1800.0 199.5,1801.7 201.1,1797.1 202.7,1797.1 204.2,1795.3 205.8,1798.6 207.4,1799.5 208.9,1799.8 210.5,1801.8 212.1,1796.5 213.6,1800.7 215.2,1800.9 216.7,1798.8 218.3,1795.2 219.9,1797.7 221.4,1800.3 223.0,1799.6 224.6,1796.7 226.1,1798.3 227.7,1799.5 229.3,1798.3 230.8,1796.2 232.4,1793.5 234.0,1800.3 235.5,1798.9 237.1,1799.3 238.6,1802.7 240.2,1799.4 241.8,1799.6 243.3,1794.9 244.9,1797.5 246.5,1800.7 248.0,1795.7 249.6,1797.8 251.2,1800.8 252.7,1798.2 254.3,1798.2 255.9,1798.7 257.4,1796.7 259.0,1801.7 260.6,1797.2 262.1,1794.3 263.7,1794.6 265.2,1794.0 266.8,1793.9 268.4,1793.0 269.9,1798.8 271.5,1794.3 273.1,1800.3 274.6,1797.4 276.2,1800.4 277.8,1793.6 279.3,1792.9 280.9,1796.3 282.5,1791.7 284.0,1797.2 285.6,1795.3 287.1,1795.2 288.7,1797.9 290.3,1794.4 291.8,1790.9 293.4,1797.7 295.0,1793.1 296.5,1795.5 298.1,1791.0 299.7,1793.9 301.2,1793.4 302.8,1793.4 304.4,1794.2 305.9,1798.0 307.5,1791.4 309.0,1797.9 310.6,1794.0 312.2,1793.0 313.7,1796.4 315.3,1794.0 316.9,1791.5 318.4,1794.3 320.0,1796.3 321.6,1801.1 323.1,1796.3 324.7,1795.4 326.3,1795.1 327.8,1796.1 329.4,1792.8 331.0,1795.1 332.5,1793.9 334.1,1791.9 335.6,1795.5 337.2,1794.0 338.8,1787.6 340.3,1790.4 341.9,1795.5 343.5,1792.2 345.0,1790.2 346.6,1788.1 348.2,1790.6 349.7,1792.0 351.3,1792.2 352.9,1788.2 354.4,1788.8 356.0,1790.7 357.5,1789.5 359.1,1789.8 360.7,1786.3 362.2,1789.9 363.8,1786.3 365.4,1784.8 366.9,1785.2 368.5,1788.1 370.1,1780.9 371.6,1786.0 373.2,1781.8 374.8,1784.5 376.3,1786.7 377.9,1779.7 379.5,1778.4 381.0,1777.9 382.6,1773.8 384.1,1773.4 385.7,1770.0 387.3,1763.9 388.8,1751.0 390.4,1750.1 392.0,1750.3 393.5,1740.2 395.1,1740.2 396.7,1736.4 398.2,1727.3 399.8,1731.3 401.4,1734.5 402.9,1728.8 404.5,1723.1 406.0,1722.8 407.6,1717.8 409.2,1729.4 410.7,1725.8 412.3,1731.5 413.9,1738.4 415.4,1737.5 417.0,1741.1 418.6,1748.0 420.1,1739.7 421.7,1750.2 423.3,1744.7 424.8,1744.8 426.4,1742.2 428.0,1746.1 429.5,1741.7 431.1,1740.9 432.6,1734.4 434.2,1741.4 435.8,1735.8 437.3,1735.3 438.9,1737.8 440.5,1716.0 442.0,1726.8 443.6,1731.3 445.2,1714.3 446.7,1724.5 448.3,1715.0 449.9,1710.7 451.4,1717.0 453.0,1714.3 454.5,1713.3 456.1,1709.5 457.7,1715.9 459.2,1712.3 460.8,1704.7 462.4,1696.5 463.9,1697.0 465.5,1689.0 467.1,1693.0 468.6,1698.0 470.2,1694.0 471.8,1703.2 473.3,1695.8 474.9,1695.2 476.5,1687.1 478.0,1684.2 479.6,1690.6 481.1,1690.2 482.7,1695.2 484.3,1686.3 485.8,1683.9 487.4,1683.3 489.0,1691.7 490.5,1677.0 492.1,1683.0 493.7,1691.8 495.2,1695.7 496.8,1695.9 498.4,1695.3 499.9,1699.4 501.5,1700.6 503.0,1703.3 504.6,1704.4 506.2,1709.6 507.7,1719.8 509.3,1720.6 510.9,1727.8 512.4,1732.1 514.0,1723.5 515.6,1738.1 517.1,1730.1 518.7,1743.9 520.3,1744.2 521.8,1743.6 523.4,1751.2 525.0,1752.6 526.5,1758.1 528.1,1761.5 529.6,1762.0 531.2,1765.3 532.8,1757.9 534.3,1766.0 535.9,1760.2 537.5,1777.7 539.0,1769.2 540.6,1768.7 542.2,1773.2 543.7,1770.0 545.3,1773.1 546.9,1777.7 548.4,1776.9 550.0,1770.9 551.5,1780.5 553.1,1781.7 554.7,1785.3 556.2,1785.0 557.8,1790.4 559.4,1788.6 560.9,1782.5 562.5,1787.1 564.1,1788.7 565.6,1787.9 567.2,1786.4 568.8,1790.1 570.3,1786.8 571.9,1789.7 573.5,1792.4 575.0,1789.0 576.6,1799.4 578.1,1795.4 579.7,1793.7 581.3,1796.8 582.8,1795.2 584.4,1796.5 586.0,1796.8 587.5,1789.2 589.1,1794.2 590.7,1796.0 592.2,1793.1 593.8,1796.8 595.4,1794.5 596.9,1795.9 598.5,1793.2 600.0,1800.1 601.6,1795.6 603.2,1797.2 604.7,1800.1 606.3,1795.6 607.9,1799.9 609.4,1794.8 611.0,1797.2 612.6,1796.8 614.1,1798.1 615.7,1796.4 617.3,1802.2 618.8,1798.2 620.4,1799.7 621.9,1797.8 623.5,1798.5 625.1,1797.1 626.6,1800.2 628.2,1794.6 629.8,1793.7 631.3,1798.9 632.9,1798.5 634.5,1797.9 636.0,1795.9 637.6,1794.6 639.2,1801.1 640.7,1799.9 642.3,1800.8 643.9,1800.9 645.4,1802.0 647.0,1797.9 648.5,1801.1 650.1,1795.6 651.7,1796.9 653.2,1800.9 654.8,1800.9 656.4,1800.1 657.9,1796.0 659.5,1800.6 661.1,1801.9 662.6,1799.0 664.2,1798.1 665.8,1800.3 667.3,1795.7 668.9,1798.6 670.4,1798.2 672.0,1800.9 673.6,1799.3 675.1,1799.6 676.7,1803.9 678.3,1798.8 679.8,1803.0 681.4,1799.6 683.0,1802.5 684.5,1795.6 686.1,1799.0 687.7,1798.0 689.2,1798.0 690.8,1802.4 692.4,1804.3 693.9,1800.6 695.5,1798.3 697.0,1799.9 698.6,1798.6 700.2,1798.4 701.7,1803.1 703.3,1799.7 704.9,1796.6 706.4,1801.5 708.0,1804.3 709.6,1801.0 711.1,1801.4 712.7,1799.8 714.3,1802.4 715.8,1800.6" fill="none" stroke="#000" stroke-width="5.2" stroke-linejoin="round" stroke-linecap="round"/>
<path d="M215.18,1806.1 v-7 M277.76,1806.1 v-14.5 M340.34,1806.1 v-7 M402.92,1806.1 v-14.5 M465.5,1806.1 v-7 M528.08,1806.1 v-14.5 M590.66,1806.1 v-7 M653.24,1806.1 v-14.5 M715.82,1806.1 v-7" stroke="#000" stroke-width="5.0" fill="none"/>
<path d="M215.18,1606 v7 M277.76,1606 v14.5 M340.34,1606 v7 M402.92,1606 v14.5 M465.5,1606 v7 M528.08,1606 v14.5 M590.66,1606 v7 M653.24,1606 v14.5 M715.82,1606 v7" stroke="#000" stroke-width="5.0" fill="none"/>
<path d="M152.6,1639.35 h7 M152.6,1672.7 h14.5 M152.6,1706.05 h7 M152.6,1739.4 h14.5 M152.6,1772.75 h7" stroke="#000" stroke-width="5.0" fill="none"/>
<path d="M778.4,1639.35 h-7 M778.4,1672.7 h-14.5 M778.4,1706.05 h-7 M778.4,1739.4 h-14.5 M778.4,1772.75 h-7" stroke="#000" stroke-width="5.0" fill="none"/>
<rect x="152.6" y="1606" width="625.8" height="200.1" fill="none" stroke="#000" stroke-width="5.0"/>
<text x="136.8" y="1818.5" font-size="43" text-anchor="end">0</text>
<text x="136.8" y="1751.8" font-size="43" text-anchor="end">50</text>
<text x="136.8" y="1685.1" font-size="43" text-anchor="end">100</text>
<text x="136.8" y="1618.4" font-size="43" text-anchor="end">150</text>
<text x="152.6" y="1854.7" font-size="43" text-anchor="middle">−2.8</text>
<text x="277.76" y="1854.7" font-size="43" text-anchor="middle">−2.6</text>
<text x="402.92" y="1854.7" font-size="43" text-anchor="middle">−2.4</text>
<text x="528.08" y="1854.7" font-size="43" text-anchor="middle">−2.2</text>
<text x="653.24" y="1854.7" font-size="43" text-anchor="middle">−2.0</text>
<text x="778.4" y="1854.7" font-size="43" text-anchor="middle">−1.8</text>
<text transform="translate(41.4,1706.05) rotate(-90)" font-size="49.3" text-anchor="middle">Intensity (cps)</text>
<text x="466" y="1915.5" font-size="47.5" text-anchor="middle"><tspan font-style="italic">q</tspan><tspan font-size="29" dy="12">x</tspan><tspan dy="-12">/2</tspan><tspan font-family='"Liberation Serif", serif' font-size="48">π</tspan><tspan> (nm</tspan><tspan font-size="27.5" dy="-20">-1</tspan><tspan dy="20">)</tspan></text>
<!-- panel (d) -->
<defs><radialGradient id="gd1"><stop offset="0" stop-color="#fff" stop-opacity="0.78"/><stop offset="0.04" stop-color="#fff" stop-opacity="0.69"/><stop offset="0.09" stop-color="#fff" stop-opacity="0.55"/><stop offset="0.17" stop-color="#fff" stop-opacity="0.4"/><stop offset="0.28" stop-color="#fff" stop-opacity="0.28"/><stop offset="0.43" stop-color="#fff" stop-opacity="0.2"/><stop offset="0.61" stop-color="#fff" stop-opacity="0.13"/><stop offset="0.8" stop-color="#fff" stop-opacity="0.06"/><stop offset="1" stop-color="#fff" stop-opacity="0"/></radialGradient><radialGradient id="gd2"><stop offset="0" stop-color="#fff" stop-opacity="0.11"/><stop offset="0.25" stop-color="#fff" stop-opacity="0.09"/><stop offset="0.5" stop-color="#fff" stop-opacity="0.06"/><stop offset="0.75" stop-color="#fff" stop-opacity="0.02"/><stop offset="1" stop-color="#fff" stop-opacity="0"/></radialGradient><radialGradient id="gd3"><stop offset="0" stop-color="#fff" stop-opacity="0.24"/><stop offset="0.25" stop-color="#fff" stop-opacity="0.21"/><stop offset="0.5" stop-color="#fff" stop-opacity="0.12"/><stop offset="0.75" stop-color="#fff" stop-opacity="0.04"/><stop offset="1" stop-color="#fff" stop-opacity="0"/></radialGradient><radialGradient id="gd4"><stop offset="0" stop-color="#fff" stop-opacity="0.72"/><stop offset="0.25" stop-color="#fff" stop-opacity="0.62"/><stop offset="0.5" stop-color="#fff" stop-opacity="0.36"/><stop offset="0.75" stop-color="#fff" stop-opacity="0.12"/><stop offset="1" stop-color="#fff" stop-opacity="0"/></radialGradient><radialGradient id="gd5"><stop offset="0" stop-color="#fff" stop-opacity="0.52"/><stop offset="0.25" stop-color="#fff" stop-opacity="0.45"/><stop offset="0.5" stop-color="#fff" stop-opacity="0.26"/><stop offset="0.75" stop-color="#fff" stop-opacity="0.08"/><stop offset="1" stop-color="#fff" stop-opacity="0"/></radialGradient><clipPath id="clipd"><path d="M982.4,1116.25 L1087.4,1080.3 L1177.4,1050.3 L1235.4,1032.9 L1443.4,1032.9 L1571.3,1528.1 L1051.4,1528.1 L982.4,1346.3 Z"/></clipPath></defs>
<g clip-path="url(#clipd)"><g filter="url(#heat)">
<rect x="976" y="1026.5" width="633.8" height="508.1" fill="#262626"/>
<ellipse cx="1229.07" cy="1215.22" rx="310" ry="280" fill="url(#gd1)"/>
<ellipse cx="1229.07" cy="1235.22" rx="55" ry="360" fill="url(#gd2)"/>
<ellipse cx="1229.07" cy="1215.22" rx="104" ry="62" fill="url(#gd3)"/>
<ellipse cx="1302.29" cy="1425.58" rx="128" ry="50" fill="url(#gd4)"/>
<ellipse cx="1231.57" cy="1421.83" rx="44" ry="42" fill="url(#gd5)"/>
<g transform="translate(1229.07,1215.22) rotate(36.5)"><ellipse rx="30" ry="13" fill="#fff" fill-opacity=".55" filter="url(#blur4)"/><path d="M-33,0 Q-6,-8 0,-8 Q6,-8 33,0 Q6,8 0,8 Q-6,8 -33,0Z" fill="#fff" filter="url(#blur1)"/></g>
</g></g>
<path d="M982.4,1116.25 L1087.4,1080.3 L1177.4,1050.3 L1235.4,1032.9 L1443.4,1032.9 L1571.3,1528.1 L1051.4,1528.1 L982.4,1346.3 Z" fill="none" stroke="#000" stroke-width="1.1"/>
<line x1="1230.32" y1="1530.6" x2="1230.32" y2="1030.5" stroke="#848484" stroke-width="3.5" stroke-dasharray="19.6 18.3"/>
<line x1="980" y1="1424.33" x2="1605.8" y2="1424.33" stroke="#848484" stroke-width="3.5" stroke-dasharray="19.6 18.3"/>
<line x1="1230.32" y1="1806.1" x2="1230.32" y2="1633.1" stroke="#848484" stroke-width="3.5" stroke-dasharray="19.6 18.3"/>
<path d="M1042.58,1530.6 v-7 M1105.16,1530.6 v-14.5 M1167.74,1530.6 v-7 M1230.32,1530.6 v-14.5 M1292.9,1530.6 v-7 M1355.48,1530.6 v-14.5 M1418.06,1530.6 v-7 M1480.64,1530.6 v-14.5 M1543.22,1530.6 v-7" stroke="#000" stroke-width="5.0" fill="none"/>
<path d="M980,1061.76 h7 M980,1093.01 h14.5 M980,1124.27 h7 M980,1155.53 h14.5 M980,1186.78 h7 M980,1218.04 h14.5 M980,1249.29 h7 M980,1280.55 h14.5 M980,1311.81 h7 M980,1343.06 h14.5 M980,1374.32 h7 M980,1405.58 h14.5 M980,1436.83 h7 M980,1468.09 h14.5 M980,1499.34 h7" stroke="#000" stroke-width="5.0" fill="none"/>
<rect x="980" y="1030.5" width="625.8" height="500.1" fill="none" stroke="#000" stroke-width="5.0"/>
<text x="964.2" y="1043.1" font-size="43" text-anchor="end">8.0</text>
<text x="964.2" y="1105.61" font-size="43" text-anchor="end">7.9</text>
<text x="964.2" y="1168.12" font-size="43" text-anchor="end">7.8</text>
<text x="964.2" y="1230.64" font-size="43" text-anchor="end">7.7</text>
<text x="964.2" y="1293.15" font-size="43" text-anchor="end">7.6</text>
<text x="964.2" y="1355.66" font-size="43" text-anchor="end">7.5</text>
<text x="964.2" y="1418.17" font-size="43" text-anchor="end">7.4</text>
<text x="964.2" y="1480.69" font-size="43" text-anchor="end">7.3</text>
<text x="964.2" y="1543.2" font-size="43" text-anchor="end">7.2</text>
<text x="977" y="1000.9" font-size="33.7" text-anchor="start">(d)</text>
<text x="1031.4" y="1003.7" font-size="44" text-anchor="start">40 W</text>
<path d="M1011.3,1798.0 1012.9,1795.4 1014.4,1803.3 1016.0,1801.8 1017.5,1804.2 1019.1,1791.7 1020.7,1793.5 1022.2,1792.2 1023.8,1795.9 1025.4,1795.3 1026.9,1801.0 1028.5,1792.8 1030.1,1800.8 1031.6,1799.6 1033.2,1798.8 1034.8,1799.8 1036.3,1795.4 1037.9,1798.3 1039.5,1797.8 1041.0,1798.1 1042.6,1793.9 1044.1,1799.1 1045.7,1797.9 1047.3,1796.3 1048.8,1801.8 1050.4,1798.6 1052.0,1795.8 1053.5,1794.1 1055.1,1796.8 1056.7,1799.0 1058.2,1793.2 1059.8,1797.7 1061.4,1797.0 1062.9,1796.5 1064.5,1797.2 1066.0,1798.4 1067.6,1795.6 1069.2,1800.1 1070.7,1798.2 1072.3,1797.9 1073.9,1799.4 1075.4,1796.5 1077.0,1796.3 1078.6,1796.5 1080.1,1797.1 1081.7,1795.0 1083.3,1791.8 1084.8,1793.7 1086.4,1805.2 1088.0,1793.2 1089.5,1801.6 1091.1,1801.4 1092.6,1796.0 1094.2,1800.1 1095.8,1791.9 1097.3,1794.2 1098.9,1798.5 1100.5,1800.8 1102.0,1795.2 1103.6,1792.6 1105.2,1795.7 1106.7,1790.6 1108.3,1794.4 1109.9,1793.5 1111.4,1796.5 1113.0,1794.3 1114.5,1795.9 1116.1,1800.6 1117.7,1787.7 1119.2,1795.3 1120.8,1794.3 1122.4,1790.6 1123.9,1794.0 1125.5,1793.6 1127.1,1792.8 1128.6,1797.4 1130.2,1789.1 1131.8,1792.5 1133.3,1795.3 1134.9,1790.4 1136.4,1792.1 1138.0,1796.0 1139.6,1792.4 1141.1,1792.7 1142.7,1791.5 1144.3,1791.2 1145.8,1789.9 1147.4,1795.7 1149.0,1791.6 1150.5,1794.3 1152.1,1789.5 1153.7,1795.2 1155.2,1797.8 1156.8,1791.7 1158.4,1781.5 1159.9,1785.9 1161.5,1789.2 1163.0,1780.8 1164.6,1789.6 1166.2,1789.3 1167.7,1785.5 1169.3,1787.1 1170.9,1788.1 1172.4,1789.3 1174.0,1787.6 1175.6,1783.4 1177.1,1791.5 1178.7,1789.0 1180.3,1781.4 1181.8,1776.6 1183.4,1791.9 1184.9,1782.8 1186.5,1777.3 1188.1,1783.6 1189.6,1784.2 1191.2,1776.2 1192.8,1782.5 1194.3,1782.4 1195.9,1781.0 1197.5,1783.6 1199.0,1786.6 1200.6,1769.3 1202.2,1763.4 1203.7,1766.4 1205.3,1764.9 1206.9,1757.8 1208.4,1757.7 1210.0,1762.1 1211.5,1754.7 1213.1,1739.9 1214.7,1738.6 1216.2,1739.7 1217.8,1732.8 1219.4,1709.9 1220.9,1718.6 1222.5,1691.7 1224.1,1688.4 1225.6,1694.0 1227.2,1686.1 1228.8,1681.3 1230.3,1679.4 1231.9,1681.4 1233.4,1675.1 1235.0,1682.0 1236.6,1695.9 1238.1,1697.1 1239.7,1706.1 1241.3,1707.2 1242.8,1706.7 1244.4,1726.1 1246.0,1711.6 1247.5,1714.1 1249.1,1717.0 1250.7,1725.5 1252.2,1722.2 1253.8,1724.6 1255.4,1719.6 1256.9,1732.3 1258.5,1713.7 1260.0,1703.2 1261.6,1708.2 1263.2,1705.3 1264.7,1690.8 1266.3,1674.8 1267.9,1687.5 1269.4,1685.1 1271.0,1687.6 1272.6,1680.3 1274.1,1680.0 1275.7,1690.4 1277.3,1679.4 1278.8,1674.1 1280.4,1685.6 1281.9,1676.2 1283.5,1668.0 1285.1,1667.3 1286.6,1670.7 1288.2,1648.6 1289.8,1651.4 1291.3,1657.4 1292.9,1668.8 1294.5,1653.2 1296.0,1647.8 1297.6,1650.6 1299.2,1645.6 1300.7,1630.3 1302.3,1636.1 1303.9,1631.2 1305.4,1654.8 1307.0,1643.5 1308.5,1632.7 1310.1,1651.7 1311.7,1628.6 1313.2,1656.7 1314.8,1652.5 1316.4,1635.5 1317.9,1668.3 1319.5,1644.8 1321.1,1663.8 1322.6,1664.5 1324.2,1656.6 1325.8,1660.4 1327.3,1659.3 1328.9,1669.3 1330.4,1674.7 1332.0,1686.2 1333.6,1680.3 1335.1,1707.0 1336.7,1689.9 1338.3,1699.1 1339.8,1696.4 1341.4,1700.7 1343.0,1723.6 1344.5,1713.7 1346.1,1726.4 1347.7,1728.0 1349.2,1723.6 1350.8,1729.2 1352.4,1733.0 1353.9,1739.9 1355.5,1742.2 1357.0,1753.3 1358.6,1754.3 1360.2,1751.4 1361.7,1763.8 1363.3,1763.6 1364.9,1758.9 1366.4,1764.8 1368.0,1770.5 1369.6,1767.3 1371.1,1764.8 1372.7,1776.9 1374.3,1780.8 1375.8,1775.1 1377.4,1780.6 1378.9,1779.8 1380.5,1781.9 1382.1,1784.5 1383.6,1782.6 1385.2,1783.0 1386.8,1789.1 1388.3,1782.4 1389.9,1781.9 1391.5,1787.8 1393.0,1786.9 1394.6,1782.6 1396.2,1792.9 1397.7,1792.4 1399.3,1790.4 1400.9,1789.7 1402.4,1787.9 1404.0,1789.5 1405.5,1796.9 1407.1,1787.6 1408.7,1787.6 1410.2,1795.0 1411.8,1790.5 1413.4,1794.5 1414.9,1794.1 1416.5,1795.2 1418.1,1788.5 1419.6,1796.4 1421.2,1794.1 1422.8,1792.6 1424.3,1797.2 1425.9,1795.6 1427.4,1795.5 1429.0,1790.5 1430.6,1799.4 1432.1,1796.0 1433.7,1795.7 1435.3,1797.3 1436.8,1793.1 1438.4,1797.1 1440.0,1798.5 1441.5,1795.2 1443.1,1794.1 1444.7,1799.9 1446.2,1795.3 1447.8,1795.8 1449.3,1797.9 1450.9,1800.0 1452.5,1795.5 1454.0,1796.2 1455.6,1800.5 1457.2,1799.4 1458.7,1793.5 1460.3,1800.0 1461.9,1803.7 1463.4,1799.1 1465.0,1798.0 1466.6,1796.6 1468.1,1799.6 1469.7,1793.5 1471.3,1799.9 1472.8,1798.3 1474.4,1796.0 1475.9,1798.7 1477.5,1805.1 1479.1,1797.1 1480.6,1798.3 1482.2,1800.7 1483.8,1796.1 1485.3,1796.3 1486.9,1800.4 1488.5,1802.8 1490.0,1803.6 1491.6,1799.6 1493.2,1800.6 1494.7,1799.5 1496.3,1805.6 1497.8,1799.2 1499.4,1802.3 1501.0,1800.2 1502.5,1793.7 1504.1,1799.3 1505.7,1796.8 1507.2,1798.3 1508.8,1797.5 1510.4,1798.9 1511.9,1799.7 1513.5,1796.6 1515.1,1802.6 1516.6,1800.9 1518.2,1798.1 1519.8,1799.0 1521.3,1794.3 1522.9,1799.3 1524.4,1799.6 1526.0,1798.6 1527.6,1803.2 1529.1,1795.8 1530.7,1800.3 1532.3,1797.9 1533.8,1801.6 1535.4,1802.9 1537.0,1799.8 1538.5,1800.2 1540.1,1798.3 1541.7,1800.9 1543.2,1793.6" fill="none" stroke="#000" stroke-width="5.2" stroke-linejoin="round" stroke-linecap="round"/>
<path d="M1042.58,1806.1 v-7 M1105.16,1806.1 v-14.5 M1167.74,1806.1 v-7 M1230.32,1806.1 v-14.5 M1292.9,1806.1 v-7 M1355.48,1806.1 v-14.5 M1418.06,1806.1 v-7 M1480.64,1806.1 v-14.5 M1543.22,1806.1 v-7" stroke="#000" stroke-width="5.0" fill="none"/>
<path d="M1042.58,1606 v7 M1105.16,1606 v14.5 M1167.74,1606 v7 M1230.32,1606 v14.5 M1292.9,1606 v7 M1355.48,1606 v14.5 M1418.06,1606 v7 M1480.64,1606 v14.5 M1543.22,1606 v7" stroke="#000" stroke-width="5.0" fill="none"/>
<path d="M980,1639.35 h7 M980,1672.7 h14.5 M980,1706.05 h7 M980,1739.4 h14.5 M980,1772.75 h7" stroke="#000" stroke-width="5.0" fill="none"/>
<path d="M1605.8,1639.35 h-7 M1605.8,1672.7 h-14.5 M1605.8,1706.05 h-7 M1605.8,1739.4 h-14.5 M1605.8,1772.75 h-7" stroke="#000" stroke-width="5.0" fill="none"/>
<rect x="980" y="1606" width="625.8" height="200.1" fill="none" stroke="#000" stroke-width="5.0"/>
<text x="964.2" y="1818.5" font-size="43" text-anchor="end">0</text>
<text x="964.2" y="1751.8" font-size="43" text-anchor="end">50</text>
<text x="964.2" y="1685.1" font-size="43" text-anchor="end">100</text>
<text x="964.2" y="1618.4" font-size="43" text-anchor="end">150</text>
<text x="980" y="1854.7" font-size="43" text-anchor="middle">−2.8</text>
<text x="1105.16" y="1854.7" font-size="43" text-anchor="middle">−2.6</text>
<text x="1230.32" y="1854.7" font-size="43" text-anchor="middle">−2.4</text>
<text x="1355.48" y="1854.7" font-size="43" text-anchor="middle">−2.2</text>
<text x="1480.64" y="1854.7" font-size="43" text-anchor="middle">−2.0</text>
<text x="1605.8" y="1854.7" font-size="43" text-anchor="middle">−1.8</text>
<text x="1293.4" y="1915.5" font-size="47.5" text-anchor="middle"><tspan font-style="italic">q</tspan><tspan font-size="29" dy="12">x</tspan><tspan dy="-12">/2</tspan><tspan font-family='"Liberation Serif", serif' font-size="48">π</tspan><tspan> (nm</tspan><tspan font-size="27.5" dy="-20">-1</tspan><tspan dy="20">)</tspan></text>
<!-- colour scale -->
<rect x="1668.2" y="1030.5" width="34.5" height="499.5" fill="url(#cbar)" stroke="#000" stroke-width="1.5"/>
<path d="M1688,1044.6 H1703.4 M1688,1202 H1703.4 M1688,1358.7 H1703.4 M1688,1515.7 H1703.4" stroke="#000" stroke-width="1.6" fill="none"/>
<text x="1716.5" y="1060.2" font-size="40" text-anchor="start">10<tspan font-size="26.4" dx="-1.2" dy="-15.2">3</tspan></text>
<text x="1716.5" y="1217.6" font-size="40" text-anchor="start">10<tspan font-size="26.4" dx="-1.2" dy="-15.2">2</tspan></text>
<text x="1716.5" y="1374.3" font-size="40" text-anchor="start">10<tspan font-size="26.4" dx="-1.2" dy="-15.2">1</tspan></text>
<text x="1716.5" y="1531.3" font-size="40" text-anchor="start">10<tspan font-size="26.4" dx="-1.2" dy="-15.2">0</tspan></text>
<text x="1552.6" y="1003.5" font-size="42.6" text-anchor="start">Intensity (cps)</text>
</svg></body></html>
